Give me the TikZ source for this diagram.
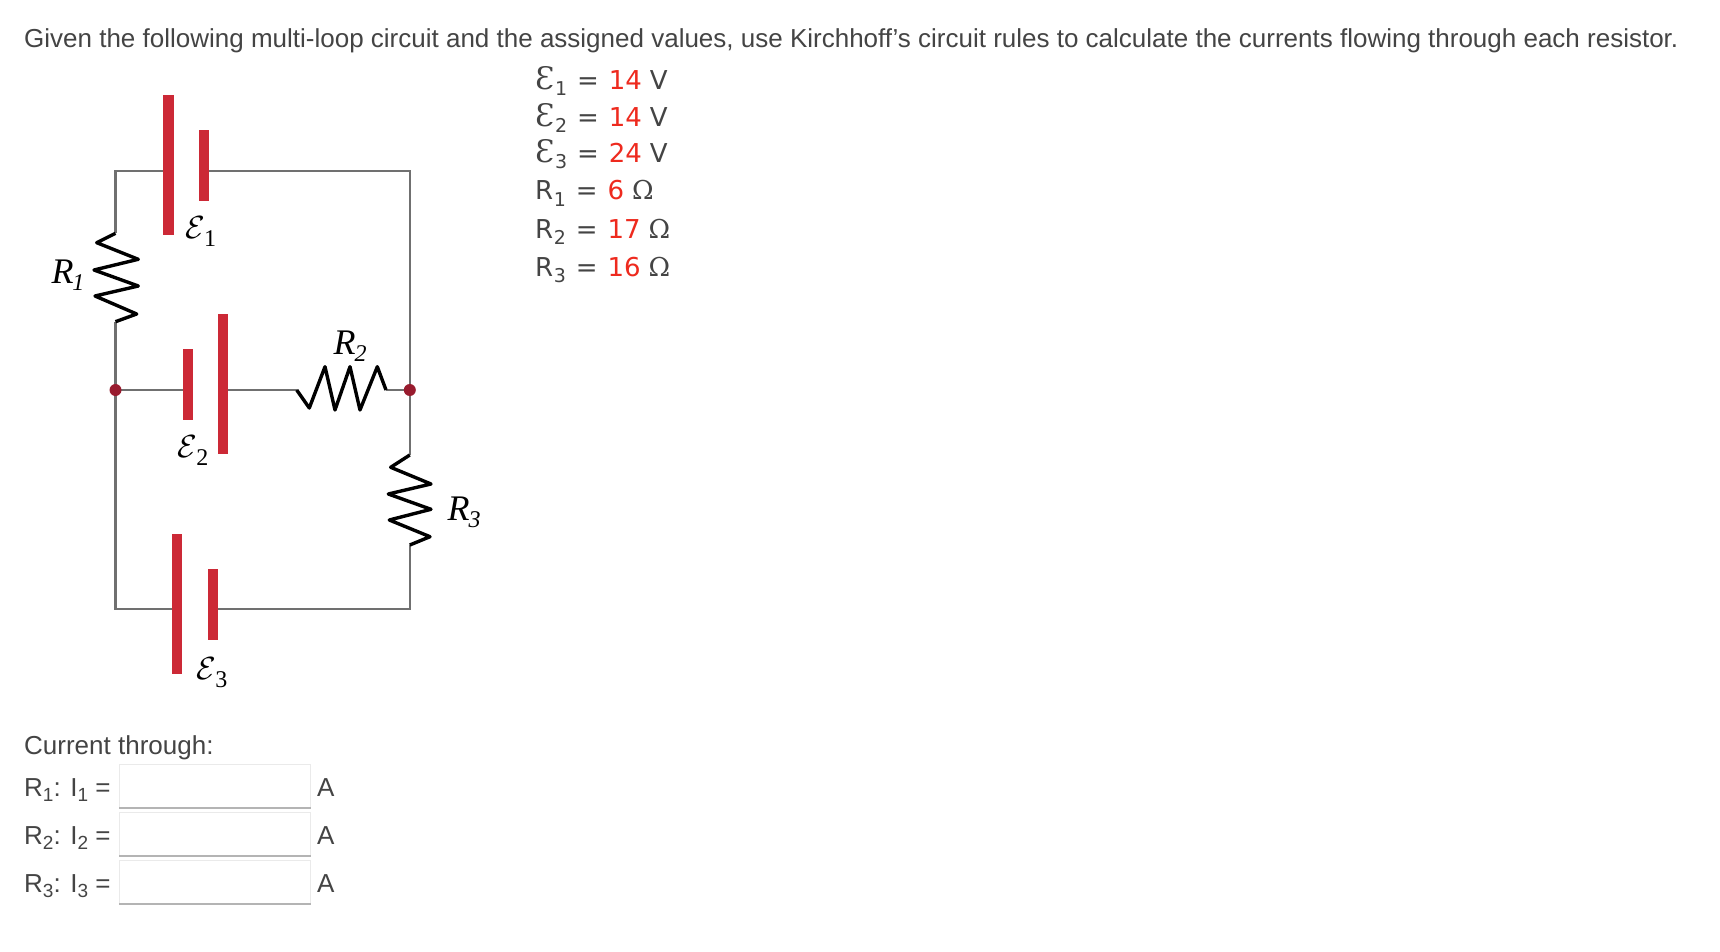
\documentclass[tikz,border=0pt]{standalone}
\usepackage{fontspec}
\setmainfont{Liberation Sans}
\newfontfamily\verd{DejaVu Sans}
\newfontfamily\verds{DejaVu Serif}
\newfontfamily\verdsb{DejaVu Serif}[BoldFont={DejaVu Serif}]
\newfontfamily\timesf{Liberation Serif}
\definecolor{txt}{HTML}{444444}
\definecolor{valred}{HTML}{EE2A1E}
\definecolor{wire}{HTML}{707070}
\definecolor{plate}{HTML}{CC2936}
\definecolor{dotred}{HTML}{981B2E}
\definecolor{boxedge}{HTML}{EAEAEA}
\definecolor{boxbot}{HTML}{B4B4B4}
\newcommand{\scE}[1]{\scalebox{#1}{$\mathcal{E}$}}
\newcommand{\circE}[1]{\scE{3.2}\hspace{-1pt}{\timesf\fontsize{24}{24}\selectfont\raisebox{-8pt}{#1}}}
\newcommand{\circR}[1]{{\timesf\itshape\fontsize{36}{36}\selectfont R\hspace{-1pt}\fontsize{24}{24}\selectfont\raisebox{-7pt}{#1}}}
\newcommand{\rowsub}[1]{\hspace{0.5pt}\raisebox{-6pt}{\fontsize{19}{19}\selectfont #1}}
\newcommand{\valE}[3]{{\color{txt}{\verds\fontsize{31}{31}\selectfont Ɛ}\rowsub{#1}\hspace{10pt}=\hspace{10pt}\textcolor{valred}{#2}\hspace{8pt}#3}}
\newcommand{\valR}[3]{{\color{txt}R\rowsub{#1}\hspace{10pt}=\hspace{10pt}\textcolor{valred}{#2}\hspace{8pt}{\verds\fontsize{26}{26}\selectfont #3}}}
\newcommand{\formsub}[1]{\raisebox{-5pt}{\fontsize{19}{19}\selectfont #1}}
\tikzset{
  wireline/.style={draw=wire,line width=2.2pt,line join=miter},
  zigzag/.style={draw=black,line width=3.4pt,line join=round},
  longplate/.style={fill=plate,draw=none,minimum width=10.3pt,minimum height=140pt,inner sep=0pt},
  shortplate/.style={fill=plate,draw=none,minimum width=10.3pt,minimum height=71pt,inner sep=0pt},
  junction/.style={circle,fill=dotred,draw=none,minimum size=12pt,inner sep=0pt},
  label/.style={inner sep=0pt,anchor=center},
  heading/.style={inner sep=0pt,anchor=base west,text=txt,font=\fontsize{26}{30}\selectfont},
  formtext/.style={inner sep=0pt,anchor=base west,text=txt,font=\fontsize{26}{30}\selectfont},
  value/.style={inner sep=0pt,anchor=base west,font=\verd\fontsize{26}{30}\selectfont},
  inputbox/.style={fill=white,draw=boxedge,line width=1pt,minimum width=191pt,minimum height=43pt,inner sep=0pt,anchor=north west},
}
\begin{document}
\begin{tikzpicture}[x=1pt,y=-1pt]
\useasboundingbox[fill=white] (0,0) rectangle (1720,952);

% texts
\node[heading] (title) at (24,47.5) {Given the following multi-loop circuit and the assigned values, use Kirchhoff's circuit rules to calculate the currents flowing through each resistor.};
\node[value] (v1) at (535,90) {\valE{1}{14}{V}};
\node[value] (v2) at (535,126.5) {\valE{2}{14}{V}};
\node[value] (v3) at (535,162.5) {\valE{3}{24}{V}};
\node[value] (v4) at (535,200) {\valR{1}{6}{Ω}};
\node[value] (v5) at (535,238) {\valR{2}{17}{Ω}};
\node[value] (v6) at (535,276) {\valR{3}{16}{Ω}};

% circuit corners and ends
\coordinate (tl) at (115.5,170.7);
\coordinate (tr) at (409.8,170.7);
\coordinate (bl) at (115.5,608.7);
\coordinate (br) at (409.8,608.7);
\coordinate (r1top) at (115.5,233.3);
\coordinate (r1bot) at (115.5,321.7);
\coordinate (r2left) at (296.7,390);
\coordinate (r2right) at (386,390);
\coordinate (r3top) at (409.8,455);
\coordinate (r3bot) at (409.8,545);

% wires
\path[wireline] (r1top) -- (tl) -- (168,170.7);
\path[wireline] (204,170.7) -- (tr) -- (409.8,390);
\path[wireline] (r1bot) -- (115.5,390) -- (bl) -- (177,608.7);
\path[wireline] (213,608.7) -- (br) -- (r3bot);
\path[wireline] (r3top) -- (409.8,390);
\path[wireline] (115.5,390) -- (188,390);
\path[wireline] (223,390) -- (r2left);
\path[wireline] (r2right) -- (409.8,390);

% resistors
\path[zigzag] (r1top) -- (96.7,242.7) -- (138.3,259.3) -- (94,270) -- (138.3,286) -- (95,296) -- (136.7,314) -- (r1bot);
\path[zigzag] (r2left) -- (309.3,408) -- (325,366.7) -- (335,410) -- (350,366.7) -- (360,410) -- (377.3,366.7) -- (r2right);
\path[zigzag] (r3top) -- (390.7,467.3) -- (431,484) -- (388.3,494) -- (431,509.3) -- (389.3,520) -- (430,536.7) -- (r3bot);

% batteries
\node[longplate] (b1l) at (168.4,165) {};
\node[shortplate] (b1s) at (203.8,165.8) {};
\node[shortplate] (b2s) at (187.7,384.5) {};
\node[longplate] (b2l) at (223.3,384) {};
\node[longplate] (b3l) at (177.3,603.5) {};
\node[shortplate] (b3s) at (212.8,604) {};

% junctions
\node[junction] (j1) at (115.5,390) {};
\node[junction] (j2) at (409.8,390) {};

% circuit labels
\node[label] (e1) at (200.7,232) {\circE{1}};
\node[label] (e2) at (193,451) {\circE{2}};
\node[label] (e3) at (212,673) {\circE{3}};
\node[label] (lr1) at (68,275) {\circR{1}};
\node[label] (lr2) at (350,346) {\circR{2}};
\node[label] (lr3) at (464,512) {\circR{3}};

% form
\node[formtext] (cur) at (24,754) {Current through:};
\node[formtext] (f1) at (24,796) {R\formsub{1}: I\formsub{1} =};
\node[formtext] (f2) at (24,844) {R\formsub{2}: I\formsub{2} =};
\node[formtext] (f3) at (24,892) {R\formsub{3}: I\formsub{3} =};
\node[inputbox] (in1) at (119,764) {};
\node[inputbox] (in2) at (119,812) {};
\node[inputbox] (in3) at (119,860) {};
\draw[boxbot,line width=1.6pt] (in1.south west) -- (in1.south east);
\draw[boxbot,line width=1.6pt] (in2.south west) -- (in2.south east);
\draw[boxbot,line width=1.6pt] (in3.south west) -- (in3.south east);
\node[formtext] (a1) at (317,796) {A};
\node[formtext] (a2) at (317,844) {A};
\node[formtext] (a3) at (317,892) {A};
\end{tikzpicture}
\end{document}
